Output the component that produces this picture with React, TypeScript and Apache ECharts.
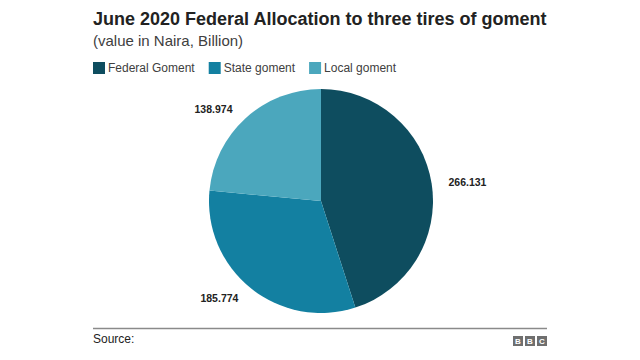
import React, { useEffect, useRef } from "react";
import * as echarts from "echarts";

const categories = ["Federal Goment", "State goment", "Local goment"];
const values = [266.131, 185.774, 138.974];
const colors = ["#0e4d5f", "#1380a1", "#4ba7bd"];

export default function App() {
  const ref = useRef<HTMLDivElement>(null);
  useEffect(() => {
    const chart = echarts.init(ref.current!, null, { renderer: "svg" });
    const font = "'Liberation Sans', Arial, sans-serif";
    chart.setOption({
      animation: false,
      backgroundColor: "#ffffff",
      legend: {
        left: 93,
        top: 62,
        padding: 0,
        itemWidth: 12,
        itemHeight: 12,
        itemGap: 14,
        icon: "rect",
        data: categories,
        textStyle: { fontFamily: font, fontSize: 12, color: "#404040", padding: [0, 0, 0, -2] },
      },
      series: [
        {
          type: "pie",
          center: [321, 201],
          radius: [0, 112],
          startAngle: 90,
          clockwise: true,
          data: categories.map((c, i) => ({ name: c, value: values[i], itemStyle: { color: colors[i] } })),
          label: {
            show: true,
            position: "outside",
            formatter: (p: any) => p.value.toFixed(3),
            fontFamily: font,
            fontSize: 10.5,
            fontWeight: "bold",
            color: "#222222",
          },
          labelLine: { show: false, length: 12, length2: 0 },
          emphasis: { disabled: true },
        },
      ],
      graphic: [
        {
          type: "text",
          left: 93,
          top: 10,
          style: {
            text: "June 2020 Federal Allocation to three tires of goment",
            font: `bold 18px ${font}`,
            fill: "#222222",
          },
        },
        {
          type: "text",
          left: 93,
          top: 33,
          style: { text: "(value in Naira, Billion)", font: `15px ${font}`, fill: "#404040" },
        },
        {
          type: "line",
          shape: { x1: 93, y1: 328.5, x2: 547, y2: 328.5 },
          style: { stroke: "#8a8a8a", lineWidth: 1.5 },
        },
        {
          type: "text",
          left: 93,
          top: 333,
          style: { text: "Source:", font: `12px ${font}`, fill: "#222222" },
        },
        ...["B", "B", "C"].flatMap((l, i) => [
          {
            type: "rect",
            shape: { x: 513 + i * 12, y: 336, width: 10, height: 10 },
            style: { fill: "#6f6f6f" },
          },
          {
            type: "text",
            x: 518 + i * 12,
            y: 341,
            style: {
              text: l,
              font: `bold 8px ${font}`,
              fill: "#ffffff",
              align: "center",
              verticalAlign: "middle",
            },
          },
        ]),
      ],
    });
    return () => chart.dispose();
  }, []);
  return <div ref={ref} style={{ width: 640, height: 360, position: "absolute", left: 0, top: 0 }} />;
}
